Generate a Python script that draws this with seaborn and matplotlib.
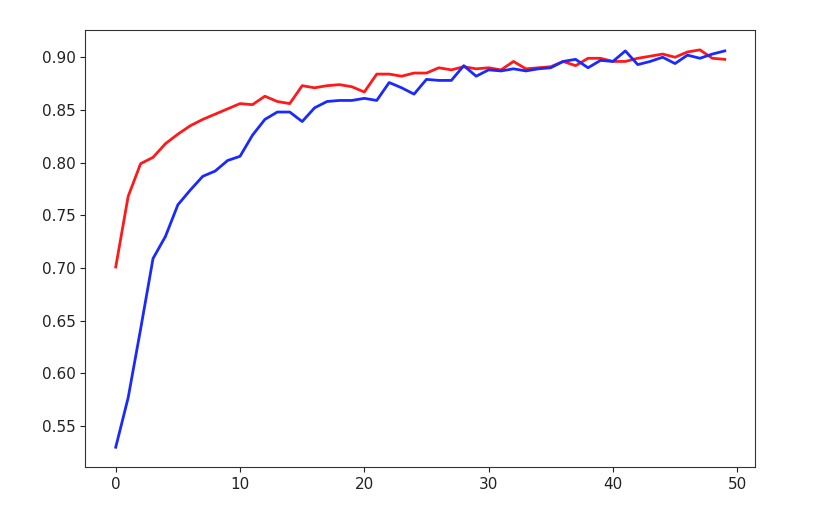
import numpy as np
import pandas as pd
import matplotlib
matplotlib.use('Agg')
import matplotlib.pyplot as plt
import seaborn as sns

# values
epochs = list(range(50))
red_vals = [0.701, 0.768, 0.799, 0.805, 0.818, 0.827, 0.835, 0.841, 0.846, 0.851,
            0.856, 0.855, 0.863, 0.858, 0.856, 0.873, 0.871, 0.873, 0.874, 0.872,
            0.867, 0.884, 0.884, 0.882, 0.885, 0.885, 0.890, 0.888, 0.891, 0.889,
            0.890, 0.888, 0.896, 0.889, 0.890, 0.891, 0.896, 0.892, 0.899, 0.899,
            0.896, 0.896, 0.899, 0.901, 0.903, 0.900, 0.905, 0.907, 0.899, 0.898]
blue_vals = [0.530, 0.577, 0.642, 0.709, 0.730, 0.760, 0.774, 0.787, 0.792, 0.802,
             0.806, 0.826, 0.841, 0.848, 0.848, 0.839, 0.852, 0.858, 0.859, 0.859,
             0.861, 0.859, 0.876, 0.871, 0.865, 0.879, 0.878, 0.878, 0.892, 0.882,
             0.888, 0.887, 0.889, 0.887, 0.889, 0.890, 0.896, 0.898, 0.890, 0.897,
             0.896, 0.906, 0.893, 0.896, 0.900, 0.894, 0.902, 0.899, 0.903, 0.906]

df = pd.DataFrame({'epoch': epochs, 'red': red_vals, 'blue': blue_vals})

fig = plt.figure(figsize=(8.2, 5.26), dpi=100)
ax = fig.add_axes([0.104, 0.112, 0.817, 0.831])
sns.lineplot(x='epoch', y='red', data=df, color='#ff1a1a', linewidth=2, ax=ax)
sns.lineplot(x='epoch', y='blue', data=df, color='#1a2aff', linewidth=2, ax=ax)
ax.set_xlabel('')
ax.set_ylabel('')
ax.set_yticks([0.55, 0.60, 0.65, 0.70, 0.75, 0.80, 0.85, 0.90])
ax.set_xticks([0, 10, 20, 30, 40, 50])
ax.tick_params(labelsize=11, colors='#222222')
for s in ax.spines.values():
    s.set_color('#333333')
fig.savefig('out.png', dpi=100)
